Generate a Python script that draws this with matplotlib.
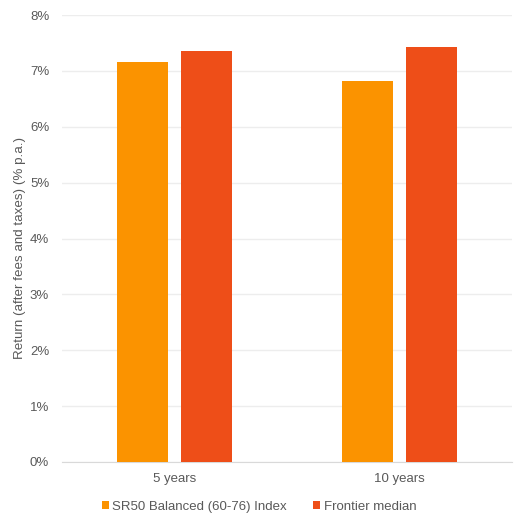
import matplotlib
matplotlib.use("Agg")
import matplotlib.pyplot as plt
import numpy as np
from matplotlib.ticker import FuncFormatter

categories = ["5 years", "10 years"]
series_names = ["SR50 Balanced (60-76) Index", "Frontier median"]
sr50 = [7.15, 6.81]
frontier = [7.35, 7.42]
colors = ["#FB9300", "#EE4E18"]

plt.rcParams['font.family'] = ['Liberation Sans', 'DejaVu Sans']
txt = "#595959"

fig = plt.figure(figsize=(5.18, 5.19), dpi=100)
ax = fig.add_axes([61.7/518, 1 - 462/519, (512-61.7)/518, (462-15)/519])

x = np.arange(len(categories))
w = 0.225
off = 0.142
ax.bar(x - off, sr50, w, color=colors[0], label=series_names[0], zorder=3)
ax.bar(x + off, frontier, w, color=colors[1], label=series_names[1], zorder=3)

ax.set_xlim(-0.5, 1.5)
ax.set_ylim(0, 8)
ax.set_yticks(range(0, 9))
ax.yaxis.set_major_formatter(FuncFormatter(lambda v, p: f"{int(v)}%"))
ax.set_xticks(x)
ax.set_xticklabels(categories)
ax.grid(axis='y', color='#EDEDED', linewidth=1, zorder=0)
for s in ['top', 'right', 'left']:
    ax.spines[s].set_visible(False)
ax.spines['bottom'].set_color('#D9D9D9')
ax.tick_params(axis='both', length=0, labelsize=9.5, labelcolor=txt)
ax.tick_params(axis='y', pad=9)
ax.tick_params(axis='x', pad=8)
ax.set_ylabel("Return (after fees and taxes) (% p.a.)", fontsize=9.6, color=txt, labelpad=3)
ax.yaxis.label.set_y(0.479)

leg = fig.legend(loc='center', bbox_to_anchor=(0.5, 1 - 507/519), ncol=2, frameon=False,
                 fontsize=9.5, handlelength=0.55, handleheight=0.55, handletextpad=0.25,
                 columnspacing=2.0)
for t in leg.get_texts():
    t.set_color(txt)

fig.savefig("out.png", dpi=100)
